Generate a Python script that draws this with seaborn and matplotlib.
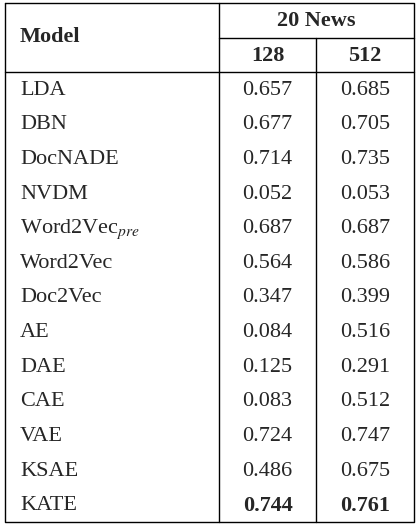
import matplotlib
matplotlib.use("Agg")
import matplotlib.pyplot as plt
import seaborn as sns

models = ["LDA", "DBN", "DocNADE", "NVDM", "Word2Vec$_{pre}$", "Word2Vec", "Doc2Vec",
          "AE", "DAE", "CAE", "VAE", "KSAE", "KATE"]
v128 = ["0.657", "0.677", "0.714", "0.052", "0.687", "0.564", "0.347", "0.084", "0.125", "0.083", "0.724", "0.486", "0.744"]
v512 = ["0.685", "0.705", "0.735", "0.053", "0.687", "0.586", "0.399", "0.516", "0.291", "0.512", "0.747", "0.675", "0.761"]
group = "20 News"
cols = ["128", "512"]

sns.set_theme(style="white")
plt.rcParams['font.family'] = ['Liberation Serif', 'DejaVu Serif']
plt.rcParams['mathtext.fontset'] = 'stix'

fig = plt.figure(figsize=(4.19, 5.26), dpi=100)
ax = fig.add_axes([0, 0, 1, 1])
ax.set_xlim(0, 419); ax.set_ylim(526, 0); ax.axis("off")

L, R, T, B = 5, 414, 3, 522
V1, V2 = 219, 316
H1, H2 = 38, 72
lw = 1.0
k = 'black'
ax.plot([L, R, R, L, L], [T, T, B, B, T], color=k, lw=lw)
ax.plot([V1, V1], [T, B], color=k, lw=lw)
ax.plot([V2, V2], [H1, B], color=k, lw=lw)
ax.plot([V1, R], [H1, H1], color=k, lw=lw)
ax.plot([L, R], [H2, H2], color=k, lw=lw)

fs = 16
ax.text(20, (T + H2) / 2, "Model", fontsize=fs, fontweight="bold", va="center", ha="left")
ax.text((V1 + R) / 2, (T + H1) / 2 + 1, group, fontsize=fs, fontweight="bold", va="center", ha="center")
ax.text((V1 + V2) / 2, (H1 + H2) / 2 + 1, cols[0], fontsize=fs, fontweight="bold", va="center", ha="center")
ax.text((V2 + R) / 2, (H1 + H2) / 2 + 1, cols[1], fontsize=fs, fontweight="bold", va="center", ha="center")

rh = (B - H2) / len(models)
for i, (m, a, b) in enumerate(zip(models, v128, v512)):
    y = H2 + rh * (i + 0.5) + 1
    w = "bold" if i == len(models) - 1 else "normal"
    ax.text(20, y, m, fontsize=fs, va="center", ha="left")
    ax.text((V1 + V2) / 2, y, a, fontsize=fs, va="center", ha="center", fontweight=w)
    ax.text((V2 + R) / 2, y, b, fontsize=fs, va="center", ha="center", fontweight=w)

fig.savefig("out.png", dpi=100)
